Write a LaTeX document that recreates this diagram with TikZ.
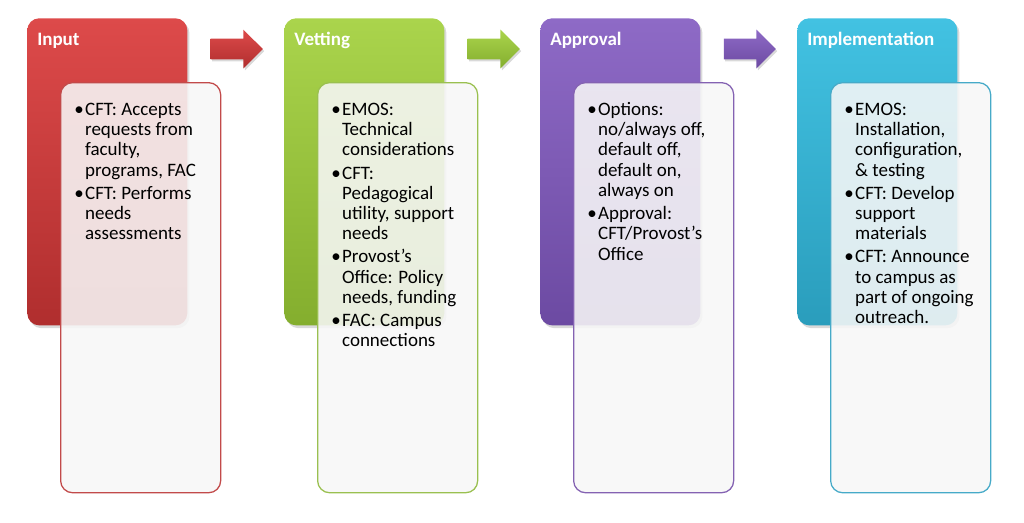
\documentclass[tikz,border=0pt]{standalone}
\usepackage{fontspec}
\setmainfont{Carlito}
\usepackage{tikz}
\usetikzlibrary{shapes,shapes.arrows,shadows,calc}
\definecolor{inptop}{HTML}{DD4A4A}
\definecolor{inpbot}{HTML}{B02E2E}
\definecolor{inpline}{HTML}{C24A4A}
\definecolor{vettop}{HTML}{AAD44C}
\definecolor{vetbot}{HTML}{84AE2E}
\definecolor{vetline}{HTML}{9AC050}
\definecolor{apptop}{HTML}{8E6AC6}
\definecolor{appbot}{HTML}{6C4AA2}
\definecolor{appline}{HTML}{8462B2}
\definecolor{imptop}{HTML}{42C2E2}
\definecolor{impbot}{HTML}{2A9DBC}
\definecolor{impline}{HTML}{46AAC8}
\tikzset{
	back box/.style={anchor=north west, minimum width=4cm, minimum height=7.675cm, inner sep=0, rounded corners=0.3cm, drop shadow={shadow xshift=1.5pt, shadow yshift=-2pt, opacity=.3}},
	front box/.style={anchor=north west, minimum width=4cm, minimum height=10.25cm, inner sep=0, rounded corners=0.3cm, line width=0.9pt, fill=gray!6, fill opacity=.88},
	title text/.style={anchor=base west, inner sep=0, text=white, font=\fontsize{13.5}{15}\selectfont\bfseries},
	item text/.style={anchor=north west, inner sep=0, align=left, font=\fontsize{13.5}{14.4}\selectfont},
	block arrow/.style={single arrow, minimum height=1.3cm, inner xsep=0, inner ysep=0.25cm, single arrow head extend=0.225cm, drop shadow={shadow xshift=1pt, shadow yshift=-1.5pt, opacity=.3}}
}
\newcommand{\stage}[4]{
	\node[back box, top color=#1top, bottom color=#1bot] (#1back) at (#2,18) {};
	\node[title text] (#1title) at ($ (#1back.north west) + (10,27) $) {#3};
	\node[front box, draw=#1line] (#1front) at ($ (#1back.north west) + (33,64) $) {};
	\node[item text] (#1text) at ($ (#1front.north west) + (14,19) $) {\begin{tabular}{@{}l@{\hspace{1pt}}l@{}}#4\end{tabular}};
}
\begin{document}
\begin{tikzpicture}[x=0.025cm, y=-0.025cm]
	\useasboundingbox (0,0) rectangle (1024,522);
%
	\stage{inp}{27}{Input}{\textbullet & CFT: Accepts\\ & requests from\\ & faculty,\\ & programs, FAC\\[2pt] \textbullet & CFT: Performs\\ & needs\\ & assessments}
	\stage{vet}{284}{Vetting}{\textbullet & EMOS:\\ & Technical\\ & considerations\\[2pt] \textbullet & CFT:\\ & Pedagogical\\ & utility, support\\ & needs\\[2pt] \textbullet & Provost’s\\ & Office: Policy\\ & needs, funding\\[2pt] \textbullet & FAC: Campus\\ & connections}
	\stage{app}{540}{Approval}{\textbullet & Options:\\ & no/always off,\\ & default off,\\ & default on,\\ & always on\\[2pt] \textbullet & Approval:\\ & CFT/Provost’s\\ & Office}
	\stage{imp}{797}{Implementation}{\textbullet & EMOS:\\ & Installation,\\ & configuration,\\ & \& testing\\[2pt] \textbullet & CFT: Develop\\ & support\\ & materials\\[2pt] \textbullet & CFT: Announce\\ & to campus as\\ & part of ongoing\\ & outreach.}
%
	\node[block arrow, top color=inptop, bottom color=inpbot] (arrinp) at ($ (inpback.north east) + (44,31) $) {};
	\node[block arrow, top color=vettop, bottom color=vetbot] (arrvet) at ($ (vetback.north east) + (44,31) $) {};
	\node[block arrow, top color=apptop, bottom color=appbot] (arrapp) at ($ (appback.north east) + (44,31) $) {};
\end{tikzpicture}
\end{document}
